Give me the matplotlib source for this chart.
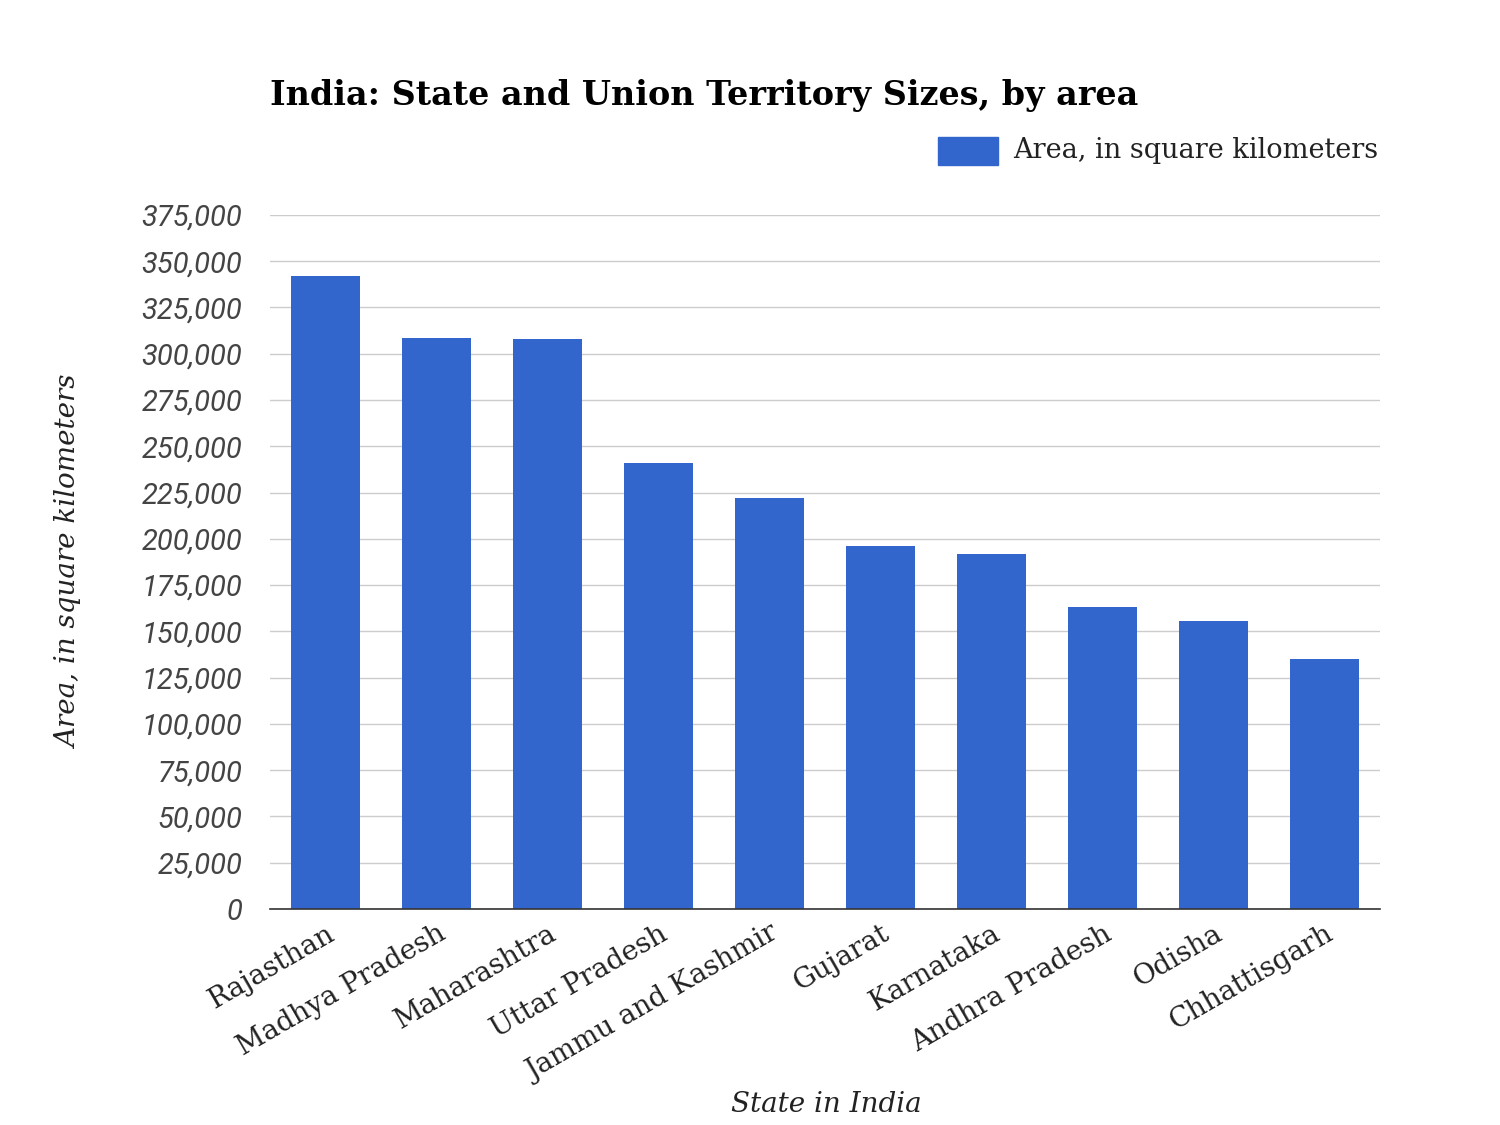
import matplotlib.pyplot as plt
from matplotlib.ticker import FuncFormatter, MultipleLocator
from matplotlib.patches import Rectangle

states = ['Rajasthan', 'Madhya Pradesh', 'Maharashtra', 'Uttar Pradesh',
          'Jammu and Kashmir', 'Gujarat', 'Karnataka', 'Andhra Pradesh',
          'Odisha', 'Chhattisgarh']
area_km2 = [342239, 308252, 307713, 240928, 222236,
            196024, 191791, 162968, 155707, 135191]

bar_color = '#3366CC'
slab = 'DejaVu Serif'
sans = 'Roboto'

fig = plt.figure(figsize=(15, 11.25), dpi=100)
ax = fig.add_axes([0.18, 0.192, 0.74, 0.617])

x = range(len(states))
ax.bar(x, area_km2, width=0.62, color=bar_color, zorder=2)

ax.set_xlim(-0.5, len(states) - 0.5)
ax.set_ylim(0, 375000)
ax.yaxis.set_major_locator(MultipleLocator(25000))
ax.yaxis.set_major_formatter(FuncFormatter(lambda v, p: f'{int(v):,}'))
ax.grid(axis='y', color='#cccccc', linewidth=1, zorder=0)
ax.set_axisbelow(True)

for s in ['top', 'right', 'left']:
    ax.spines[s].set_visible(False)
ax.spines['bottom'].set_color('#333333')
ax.spines['bottom'].set_linewidth(1.2)
ax.spines['bottom'].set_zorder(3)

ax.tick_params(axis='both', length=0)
ax.tick_params(axis='y', pad=20)
for lab in ax.get_yticklabels():
    lab.set_fontfamily(sans)
    lab.set_fontstyle('italic')
    lab.set_fontsize(21)
    lab.set_color('#444444')

ax.set_xticks(list(x))
ax.set_xticklabels(states, rotation=30, ha='right', rotation_mode='anchor',
                   fontfamily=slab, fontsize=20, color='#222222')
ax.tick_params(axis='x', pad=8)

ax.set_ylabel('Area, in square kilometers', fontfamily=slab, fontstyle='italic',
              fontsize=20, color='#222222', labelpad=42)
fig.text(826 / 1500, 1 - 1105 / 1125, 'State in India', fontfamily=slab,
         fontstyle='italic', fontsize=20, color='#222222', ha='center', va='center')

fig.text(270 / 1500, 1 - 96 / 1125, 'India: State and Union Territory Sizes, by area',
         fontfamily=slab, fontweight='bold', fontsize=24, color='black',
         ha='left', va='center')

# legend
fig.patches.append(Rectangle((938 / 1500, 1 - 165 / 1125), 60 / 1500, 28 / 1125,
                             transform=fig.transFigure, color=bar_color))
fig.text(1378 / 1500, 1 - 151 / 1125, 'Area, in square kilometers', fontfamily=slab,
         fontsize=19.5, color='#222222', ha='right', va='center')

fig.savefig('out.png', dpi=100, facecolor='white')
